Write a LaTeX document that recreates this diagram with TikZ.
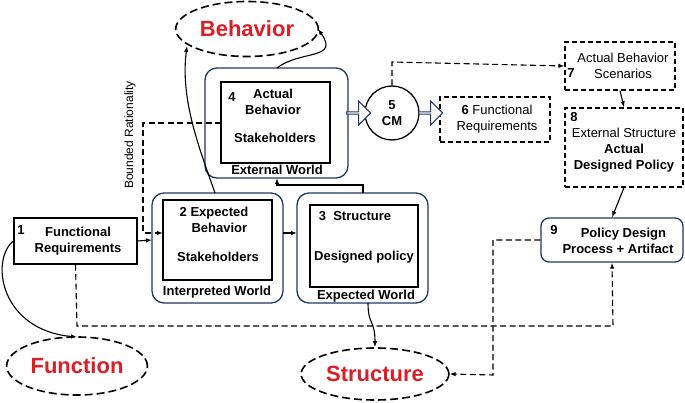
\documentclass[tikz,border=0pt]{standalone}
\usepackage{fontspec}
\setmainfont{Liberation Sans}
\usetikzlibrary{shapes.geometric,shapes.arrows,arrows.meta}
\definecolor{navy}{RGB}{31,56,100}
\definecolor{lred}{RGB}{220,30,40}
\begin{document}
\begin{tikzpicture}[x=1pt,y=-1pt,
 outer/.style={draw=navy,line width=1.3pt,rounded corners=12pt},
 inner/.style={draw,line width=1.3pt},
 dbox/.style={draw,line width=1.3pt,dash pattern=on 5pt off 3pt},
 lbl/.style={font=\fontsize{13}{15.5}\selectfont\bfseries,align=center,inner sep=0},
 thin/.style={font=\fontsize{13}{15.5}\selectfont,align=center,inner sep=0},
 ell/.style={ellipse,draw,line width=1.6pt,dash pattern=on 8pt off 4pt,font=\fontsize{22}{24}\selectfont\bfseries,text=lred},
 arr/.style={-{Latex[length=6pt,width=4.5pt]},line width=1.1pt},
 dl/.style={line width=1.3pt,dash pattern=on 6pt off 3.5pt},
 blk/.style={single arrow,draw=navy,line width=1pt,fill=white,minimum height=24pt,single arrow head extend=5pt,minimum width=24pt,inner sep=0}]
\useasboundingbox (0,0) rectangle (685,403);
\node[ell,minimum width=140pt,minimum height=55pt] (beh) at (247,29) {Behavior};
\node[ell,minimum width=138pt,minimum height=58pt] (fun) at (77,366) {Function};
\node[ell,minimum width=140pt,minimum height=52pt] (str) at (375,374) {Structure};
% box 4
\draw[outer] (205,68) rectangle (348,178);
\draw[inner] (221,82) rectangle (330,163);
\coordinate (b4t) at (277,68); \coordinate (b4b) at (277,178);
\coordinate (b4l) at (221,123);
\node[lbl] at (232,97) {4};
\node[lbl] at (273,102) {Actual\\Behavior};
\node[lbl] at (275,138) {Stakeholders};
\node[lbl] at (277,170) {External World};
% box 2
\draw[outer] (152,193) rectangle (283,303);
\draw[inner] (163,200) rectangle (272,280);
\coordinate (b2t) at (215,193); \coordinate (b2l) at (152,240); \coordinate (b2r) at (283,233);
\node[lbl] at (214,220) {2 Expected\\\ \ \ Behavior};
\node[lbl] at (218,257) {Stakeholders};
\node[lbl] at (217,292) {Interpreted World};
% box 3
\draw[outer] (297,193) rectangle (428,303);
\draw[inner] (310,205) rectangle (418,287);
\coordinate (b3t) at (363,193); \coordinate (b3l) at (297,233); \coordinate (b3b) at (368,303);
\node[lbl] at (355,216) {3\ \ Structure};
\node[lbl] at (364,257) {Designed policy};
\node[lbl] at (366,296) {Expected World};
% box 1
\node[inner,minimum width=123pt,minimum height=46pt] (b1) at (75.5,241) {};
\node[lbl] at (21,230) {1};
\node[lbl] at (78,241) {Functional\\Requirements};
% CM
\node[circle,draw,line width=1.3pt,minimum size=54pt,lbl] (cm) at (392,113) {5\\CM};
% box 6
\node[dbox,minimum width=110pt,minimum height=45pt] (b6) at (495,119.5) {};
\node[thin] at (497,119) {\textbf{6} Functional\\Requirements};
% box 7
\node[dbox,minimum width=110pt,minimum height=48pt] (b7) at (620,66) {};
\node[thin] at (623,66) {Actual Behavior\\Scenarios};
\node[lbl] at (571,73) {7};
% box 8
\node[dbox,minimum width=118pt,minimum height=79pt] (b8) at (624,147.5) {};
\node[lbl] at (574,117) {8};
\node[thin] at (624,133) {External Structure};
\node[lbl] at (624,158) {Actual\\Designed Policy};
% box 9
\node[outer,rounded corners=8pt,minimum width=142pt,minimum height=44pt] (b9) at (612,240) {};
\node[lbl] at (554,230) {9};
\node[lbl] at (618,241) {\ \ \ Policy Design\\Process + Artifact};
% bounded rationality
\node[thin,rotate=90,font=\fontsize{12}{14}\selectfont] at (130,135) {Bounded Rationality};
% connectors
\draw[arr] (b1.east) -- (b2l);
\draw[arr] (b2r) -- (b3l);
\draw[dl,arr] (b4l) -- (143,123) -- (143,233) -- (163,233);
\draw[arr] (b3t) -- (363,185) -- (277,185) -- (b4b);
\draw[arr] (b2t) .. controls (200,150) and (180,100) .. (187,46);
\draw[arr] (b4t) .. controls (300,50) and (340,60) .. (318,29);
\draw[arr] (b1.west) .. controls (-10,260) and (0,330) .. (77,337);
\draw[arr] (b3b) .. controls (368,325) and (375,320) .. (str.north);
\node[blk] at (358,113) {};
\node[blk] at (430,113) {};
\draw[dl,arr] (cm.north) -- (392,62) -- (b7.west);
\draw[arr] (b7.south) -- (b8.north);
\draw[arr] (b8.south) -- (b9.north);
\draw[dl,arr] (b9.west) -- (493,240) -- (493,375) -- (str.east);
\draw[dl,arr] (b1.south) -- (77,326) -- (613,326) -- (b9.south);
\end{tikzpicture}
\end{document}
